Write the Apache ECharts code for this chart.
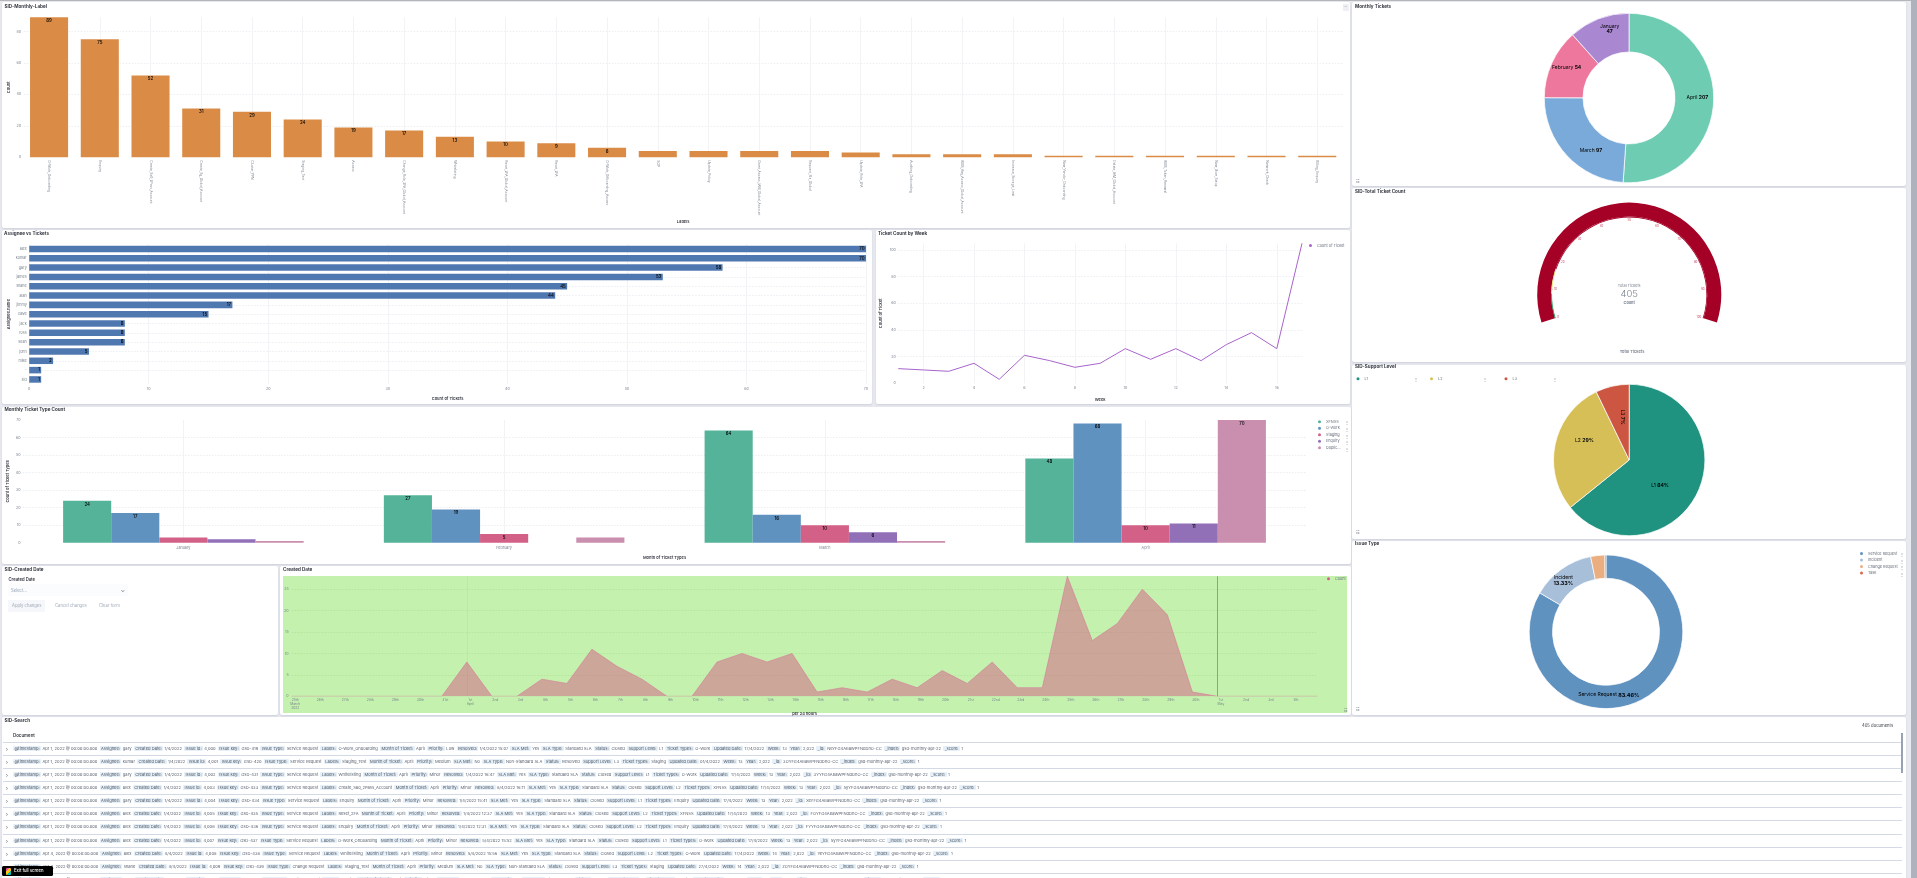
<!DOCTYPE html>
<html><head><meta charset="utf-8">
<style>
html,body{margin:0;padding:0;width:1917px;height:878px;overflow:hidden;background:#e9eaf0;font-family:Inter,"Noto Sans",sans-serif}
.card{position:absolute;background:#fff;border-radius:2px;box-shadow:0 1px 2px rgba(120,130,150,.25)}
.t{position:absolute;white-space:nowrap;transform:translateY(-50%);line-height:1}
.title{font-size:4.6px;font-weight:700;color:#343741}
#chart{position:absolute;left:0;top:0;width:1917px;height:878px;z-index:1}
#over{position:absolute;left:0;top:0;width:1917px;height:878px;z-index:2;pointer-events:none;overflow:hidden}
.row{position:absolute;left:13px;white-space:nowrap;font-size:4.1px;line-height:6px;color:#5a6270}
.row b{font-weight:400;color:#4a5260;background:#e6f0f8;border-radius:1px;padding:0 1.4px;margin-right:1.4px}
.row i{font-style:normal;margin-right:2.2px}
</style></head><body>
<div id="bg"></div><div id="chart"></div><div id="over"></div>
<script src="https://cdn.jsdelivr.net/npm/echarts@6/dist/echarts.min.js"></script>
<script>
// ---------- data ----------
const labelCategories = ["O-Work_Onboarding","Enquiry","Create_Sa0_2Pass_Account","Create_Sg_Global_Account","Cluster_VPN","Staging_Test","Access","Change_Role_2FA_Global_Account","Whitelisting","Reset_2FA_Global_Account","Reset_2FA","O-Work_Offboarding_Access","SOP","Update_Policy","Grant_Access_IAM_Global_Account","Request_Sla_Global","Update_Role_2FA","Auditing_Onboarding","KMS_Key_Access_Global_Account","Increase_Storage_Limit","New_Vendor_Onboarding","Delete_IAM_Global_Account","KMS_Token_Renewal","New_User_Setup","Network_Check","Billing_Enquiry"];
const labelCounts = [89,75,52,31,29,24,19,17,13,10,9,6,4,4,4,4,3,2,2,2,1,1,1,1,1,1];
const assignees = ["alex","kumar","gary","james","shane","alan","jimmy","dave","jack","ross","sean","john","mike","-","sid"];
const assigneeCounts = [70,70,58,53,45,44,17,15,8,8,8,5,2,1,1];
const weeks = ["1","2","3","4","5","6","7","8","9","10","11","12","13","14","15","16","17"];
const weekCounts = [11,10,9,15,3,21,17,12,15,26,18,26,17,29,38,26,105];
const months = ["January","February","March","April"];
const typeNames = ["XFNSS","O-Work","Staging","Enquiry","Duplic..."];
const typeXFNSS = [24,27,64,48];
const typeOWork = [17,19,16,68];
const typeStaging = [3,5,10,10];
const typeEnquiry = [2,0,6,11];
const typeDuplicate = [1,3,1,70];
const createdDays = ["25th\nMarch\n2022","26th","27th","28th","29th","30th","31st","1st\nApril","2nd","3rd","4th","5th","6th","7th","8th","9th","10th","11th","12th","13th","14th","15th","16th","17th","18th","19th","20th","21st","22nd","23rd","24th","25th","26th","27th","28th","29th","30th","1st\nMay","2nd","3rd","4th","5th"];
const createdCounts = [0,0,0,0,0,0,0,8,0,0,4,3,11,7,4,0,0,8,10,8,10,1,2,1,4,2,6,3,8,2,2,28,13,17,25,19,1,0,0,0,0,0];
const monthNames = ["April","March","February","January"];
const monthCounts = [207,97,54,47];
const supportLevels = ["L1","L2","L3"];
const supportCounts = [260,116,29];
const issueTypes = ["Service Request","Incident","Change Request","Task"];
const issueCounts = [338,54,12,1];
const totalTickets = 405;
const gaugeMax = 100;
const docHeaders = ["@timestamp:","Assignee:","Created Date:","Issue id:","Issue key:","Issue Type:","Labels:","Month of Ticket:","Priority:","Resolved:","SLA Met:","SLA Type:","Status:","Support Level:","Ticket Types:","Updated Date:","Week:","Year:","_id:","_index:","_score:"];
const docRows = [
["Apr 1, 2022 @ 00:00:00.000","gary","1/4/2022","4,000","GsD-419","Service Request","O-Work_Onboarding","April","Low","1/4/2022 15:07","Yes","Standard SLA","Closed","L1","O-Work","17/4/2022","13","2,022","NeYFG4ABaWPFNdDhO-CC","gsd-monthly-apr-22","1"],
["Apr 1, 2022 @ 00:00:00.000","kumar","1/4/2022","4,001","GsD-420","Service Request","Staging_Test","April","Medium","","No","Non-Standard SLA","Resolved","L3","Staging","01/4/2022","13","2,022","3OYFG4ABaWPFNdDhO-CC","gsd-monthly-apr-22","1"],
["Apr 1, 2022 @ 00:00:00.000","gary","1/4/2022","4,002","GsD-431","Service Request","Whitelisting","April","Minor","1/4/2022 16:47","Yes","Standard SLA","Closed","L1","O-Work","17/4/2022","13","2,022","3YYFG4ABaWPFNdDhO-CC","gsd-monthly-apr-22","1"],
["Apr 1, 2022 @ 00:00:00.000","alex","1/4/2022","4,003","GsD-433","Service Request","Create_Sa0_2Pass_Account","April","Minor","8/4/2022 16:11","Yes","Standard SLA","Closed","L2","XFNSS","17/4/2022","13","2,022","5yYFG4ABaWPFNdDhO-CC","gsd-monthly-apr-22","1"],
["Apr 1, 2022 @ 00:00:00.000","gary","1/4/2022","4,004","GsD-434","Service Request","Enquiry","April","Minor","1/4/2022 15:41","Yes","Standard SLA","Closed","L1","Enquiry","17/4/2022","13","2,022","XeYFG4ABaWPFNdDhO-CC","gsd-monthly-apr-22","1"],
["Apr 1, 2022 @ 00:00:00.000","alex","1/4/2022","4,005","GsD-435","Service Request","Reset_2FA","April","Minor","1/4/2022 12:37","Yes","Standard SLA","Closed","L2","XFNSS","17/4/2022","13","2,022","FOYFG4ABaWPFNdDhO-CC","gsd-monthly-apr-22","1"],
["Apr 1, 2022 @ 00:00:00.000","alex","1/4/2022","4,006","GsD-436","Service Request","Enquiry","April","Minor","1/4/2022 12:31","Yes","Standard SLA","Closed","L2","Enquiry","17/4/2022","13","2,022","FYYFG4ABaWPFNdDhO-CC","gsd-monthly-apr-22","1"],
["Apr 1, 2022 @ 00:00:00.000","alex","1/4/2022","4,007","GsD-437","Service Request","O-Work_Onboarding","April","Minor","5/4/2022 15:52","Yes","Standard SLA","Closed","L1","O-Work","17/4/2022","13","2,022","5yYFG4ABaWPFNdDhO-CC","gsd-monthly-apr-22","1"],
["Apr 4, 2022 @ 00:00:00.000","alex","4/4/2022","4,008","GsD-438","Service Request","Whitelisting","April","Minor","5/4/2022 15:56","Yes","Standard SLA","Closed","L2","O-Work","17/4/2022","14","2,022","YeYFG4ABaWPFNdDhO-CC","gsd-monthly-apr-22","1"],
["Apr 4, 2022 @ 00:00:00.000","shane","4/4/2022","4,009","GsD-439","Change Request","Staging_Test","April","Medium","","No","Non-Standard SLA","Closed","L3","Staging","27/4/2022","14","2,022","ZOYFG4ABaWPFNdDhO-CC","gsd-monthly-apr-22","1"],
["Apr 4, 2022 @ 00:00:00.000","gary","4/4/2022","4,010","GsD-440","Service Request","Enquiry","April","Minor","4/4/2022 11:02","Yes","Standard SLA","Closed","L1","Enquiry","17/4/2022","14","2,022","ZeYFG4ABaWPFNdDhO-CC","gsd-monthly-apr-22","1"]
];
// ---------- page furniture ----------
const bg=document.getElementById('bg'), over=document.getElementById('over');
function card(x0,y0,x1,y1,extra){const d=document.createElement('div');d.className='card';d.style.cssText=`left:${x0}px;top:${y0}px;width:${x1-x0}px;height:${y1-y0}px;${extra||''}`;bg.appendChild(d);return d;}
function txt(x,y,s,cls,css){const d=document.createElement('div');d.className='t '+(cls||'');d.textContent=s;d.style.cssText=`left:${x}px;top:${y}px;${css||''}`;over.appendChild(d);return d;}
function box(x0,y0,x1,y1,css){const d=document.createElement('div');d.style.cssText=`position:absolute;left:${x0}px;top:${y0}px;width:${x1-x0}px;height:${y1-y0}px;${css}`;over.appendChild(d);return d;}
const panels=[[2,2,1350,228],[2,230,872,404],[876,230,1350,404],[2,407,1351,563.5],[2,566,278,715],[280,566,1351,715],[1352,2,1906,186],[1352,188,1906,362],[1352,364.7,1906,539],[1352,541,1906,715],[2,717,1906,880]];
panels.forEach(p=>card(p[0],p[1],p[2],p[3]));
card(283,576,1346.5,713,'background:#c4f2ae;border-radius:0;box-shadow:none');
box(0,0,1911,1.2,'background:#b4b6ba');
box(1911,0,1917,878,'background:#adb2bc');
box(1342.5,3.5,1349,11,'background:#eef0f4');
txt(1343.6,7.3,'···','',"font-size:4px;color:#69707d");
[["SID-Monthly-Label",4.5,6.8],["Assignee vs Tickets",4,233.7],["Ticket Count by Week",878,233.7],["Monthly Ticket Type Count",4.5,409.7],["SID-Created Date",4.5,569.7],["Created Date",283,569.7],["Monthly Tickets",1355,6.7],["SID-Total Ticket Count",1355,191.7],["SID-Support Level",1355,367.3],["Issue Type",1355,544.3],["SID-Search",4.5,720.7]].forEach(a=>txt(a[1],a[2],a[0],'title'));
// filter control
txt(8.5,580,"Created Date",'',"font-size:4.2px;font-weight:600;color:#343741");
box(8,584,128,596,'background:#fbfcfd');
txt(11,590.5,"Select...",'',"font-size:4.2px;color:#98a2b3");
txt(120.5,590.5,"⌄",'',"font-size:6px;color:#69707d;transform:translateY(-70%)");
box(8,600,45,612,'background:#f5f7fa;border-radius:1px');
txt(12,606,"Apply changes",'',"font-size:4.2px;color:#a2abba");
txt(55,606,"Cancel changes",'',"font-size:4.2px;color:#a2abba");
txt(99,606,"Clear form",'',"font-size:4.2px;color:#a2abba");
// legend extras
[[1345,423],[1345,430],[1345,436.5],[1345,443],[1345,449.5],[1414,380],[1483,380],[1553,380],[1900,555],[1900,561.5],[1900,568],[1900,575]].forEach(a=>txt(a[0],a[1],"⋮",'',"font-size:4.4px;color:#69707d"));
[[1357,181.7],[1357,533],[1357,710],[1345,710.5]].forEach(a=>txt(a[0]-1.5,a[1],"☷",'',"font-size:4px;color:#69707d"));
txt(1632,351.7,"Total Tickets",'',"font-size:4px;font-weight:600;color:#7a828e;transform:translate(-50%,-50%)");
// document table
txt(13,736.3,"Document",'',"font-size:4.4px;font-weight:600;color:#343741");
txt(1862,726,"405 documents",'',"font-size:4.2px;color:#343741");
const rowY=[742.3,755.4,768.4,781.4,794.4,807.4,820.7,834.2,847.3,860.3,873.3];
rowY.forEach((y,i)=>{
  box(3,y-.5,1902,y+.5,'background:#d3dae6');
  txt(5.8,y+6.3,"›",'',"font-size:6px;color:#69707d");
  const r=document.createElement('div');r.className='row';r.style.top=(y+3.4)+'px';
  docHeaders.forEach((h,k)=>{const v=docRows[i][k];if(v==="")return;const b=document.createElement('b');b.textContent=h;const s=document.createElement('i');s.textContent=v;r.append(b,s);});
  over.appendChild(r);
});
box(1901,733,1903,773,'background:#98a2b3');
box(2,866,52.7,876.3,'background:#000;border-radius:1.5px');
box(6,867.5,11,874.5,'background:linear-gradient(135deg,#f04e98 0 30%,#fec514 30% 60%,#00bfb3 60%);border-radius:1px');
txt(14,871.2,"Exit full screen",'',"font-size:4.2px;color:#fff;font-weight:500");
// ---------- chart ----------
const axisC='#7a828e', nameC='#343741', gridC='#eef0f3';
const tick={color:axisC,fontSize:3.7,fontFamily:'Inter'};
const nameStyle={color:nameC,fontSize:4,fontWeight:600,fontFamily:'Inter'};
const off={show:false};
const dash={show:true,lineStyle:{color:'#e4e7ec',type:[1.5,1.5],width:.7},showMinLine:false,showMaxLine:false};
const solid={show:true,alignWithLabel:true,lineStyle:{color:gridC,width:.8}};
const barLabel={show:true,position:'insideTop',distance:1.6,color:'#000',fontSize:4.4,fontFamily:'Inter',fontWeight:500};
const legendBase={icon:'circle',itemWidth:3,itemHeight:3,padding:0,orient:'vertical',selectedMode:false,itemStyle:{borderWidth:0},textStyle:{color:'#69707d',fontSize:3.8,fontFamily:'Inter'}};
const axisCommon={axisLine:off,axisTick:off,nameLocation:'middle',nameMoveOverlap:false,nameTextStyle:nameStyle};
function nudged(arr){return p=>{const a=arr[p.dataIndex]||[0,0];return {dx:a[0],dy:a[1]};};}
const monthNudge=[[0,-3],[12,6],[0,-2],[5,-5]], supNudge=[[-6,8],[-5,-11],[-3,-2]], issueNudge=[[-31,4],[-3,4],[0,0],[0,0]];
const gridCommon={outerBoundsMode:'none',containLabel:false};
const option={
  animation:false,
  grid:[
    {...gridCommon,left:23.7,top:17.3,width:1318.9,height:140},
    {...gridCommon,left:29.2,top:244.3,width:836.8,height:139.8},
    {...gridCommon,left:898.3,top:243.3,width:403.7,height:140},
    {...gridCommon,left:23,top:420,width:1283,height:122.7},
    {...gridCommon,left:291.7,top:576.3,width:1025.8,height:120}
  ],
  xAxis:[
    {...axisCommon,gridIndex:0,type:'category',data:labelCategories,splitLine:solid,name:'Labels',nameGap:62.5,axisLabel:{...tick,fontSize:3.3,interval:0,rotate:-90,margin:3}},
    {...axisCommon,gridIndex:1,type:'value',min:0,max:70,interval:10,splitLine:{show:true,lineStyle:{color:gridC,width:.8}},name:'Count of Tickets',nameGap:12.5,axisLabel:{...tick,margin:2.5}},
    {...axisCommon,gridIndex:2,type:'category',boundaryGap:false,data:weeks,splitLine:{show:true,interval:(i,v)=>+v%2===0,lineStyle:{color:gridC,width:.8}},name:'Week',nameGap:14,axisLabel:{...tick,margin:3,interval:(i,v)=>+v%2===0}},
    {...axisCommon,gridIndex:3,type:'category',data:months,splitLine:solid,name:'Month of Ticket Types',nameGap:13,axisLabel:{...tick,margin:3}},
    {...axisCommon,gridIndex:4,type:'category',boundaryGap:false,data:createdDays,splitLine:{show:true,interval:i=>i===7,lineStyle:{color:'#b9e6a4',width:.8}},name:'per 24 hours',nameGap:15.5,axisLabel:{...tick,fontSize:3.3,lineHeight:3.9,margin:2,padding:[0,0,0,7],verticalAlign:'top',interval:i=>i<41}}
  ],
  yAxis:[
    {...axisCommon,gridIndex:0,type:'value',min:0,max:89,interval:20,splitLine:dash,name:'Count',nameGap:12.5,axisLabel:{...tick,margin:2.5,showMaxLabel:false}},
    {...axisCommon,gridIndex:1,type:'category',inverse:true,data:assignees,splitLine:{...dash,alignWithLabel:true},name:'Assignee.name',nameGap:18.5,axisLabel:{...tick,margin:2.5,interval:0}},
    {...axisCommon,gridIndex:2,type:'value',min:0,max:105,interval:20,splitLine:dash,name:'Count of Ticket',nameGap:15.6,axisLabel:{...tick,margin:2.5,showMaxLabel:false}},
    {...axisCommon,gridIndex:3,type:'value',min:0,max:70,interval:10,splitLine:dash,name:'Count of Ticket Types',nameGap:13,axisLabel:{...tick,margin:2.5}},
    {...axisCommon,gridIndex:4,type:'value',min:0,max:28,interval:5,splitLine:{...dash,lineStyle:{color:'#aee094',type:[1.5,1.5],width:.7}},axisLabel:{...tick,margin:3,showMaxLabel:false}}
  ],
  legend:[
    {...legendBase,left:1309,top:243.5,data:['Count of Ticket']},
    {...legendBase,left:1318,top:419.7,itemGap:2.5,data:typeNames},
    {...legendBase,left:1327,top:576.7,data:['Count']},
    {...legendBase,left:1356.5,top:376.8,orient:'horizontal',itemGap:62,data:supportLevels},
    {...legendBase,left:1860,top:551.5,itemGap:2.5,data:issueTypes}
  ],
  series:[
    {type:'bar',xAxisIndex:0,yAxisIndex:0,data:labelCounts,barCategoryGap:'25%',itemStyle:{color:'#DA8B45'},label:{...barLabel,formatter:p=>p.value>=6?p.value:''}},
    {type:'bar',xAxisIndex:1,yAxisIndex:1,data:assigneeCounts,barCategoryGap:'30%',itemStyle:{color:'#5078B0'},label:{...barLabel,position:'insideRight',distance:1.4}},
    {type:'line',name:'Count of Ticket',xAxisIndex:2,yAxisIndex:2,data:weekCounts,showSymbol:false,symbol:'none',lineStyle:{color:'#A864CC',width:1},itemStyle:{color:'#A864CC'}},
    ...typeNames.map((n,i)=>({type:'bar',name:n,xAxisIndex:3,yAxisIndex:3,data:[typeXFNSS,typeOWork,typeStaging,typeEnquiry,typeDuplicate][i],barGap:0,barCategoryGap:'25%',itemStyle:{color:['#54B399','#6092C0','#D36086','#9170B8','#CA8EAE'][i]},label:{...barLabel,formatter:p=>p.value>=5?p.value:''}})),
    {type:'line',name:'Count',xAxisIndex:4,yAxisIndex:4,data:createdCounts,showSymbol:false,symbol:'none',lineStyle:{color:'#D9789A',width:.6},itemStyle:{color:'#D36086'},areaStyle:{color:'#D36086',opacity:.52},
      markLine:{silent:true,symbol:'none',label:off,lineStyle:{color:'#9a9a9a',width:1,type:'solid'},data:[{xAxis:37}]}},
    {type:'pie',center:[1629,98],radius:[46,84.7],startAngle:90,clockwise:true,data:monthNames.map((n,i)=>({name:n,value:monthCounts[i],itemStyle:{color:['#6DCCB1','#79AAD9','#EE789D','#A987D1'][i]}})),itemStyle:{borderColor:'#fff',borderWidth:.7},
      label:{position:'inside',fontSize:5,fontFamily:'Inter',color:'#000',formatter:p=>p.name==='January'?`${p.name}\n{b|${p.value}}`:`${p.name} {b|${p.value}}`,rich:{b:{fontWeight:700,fontSize:5,color:'#000'}}},labelLine:off,labelLayout:nudged(monthNudge)},
    {type:'gauge',center:[1629.2,294.6],radius:92,startAngle:197.6,endAngle:-17.6,min:0,max:gaugeMax,splitNumber:10,pointer:off,anchor:off,progress:off,
      axisLine:{lineStyle:{width:14,color:[[1,'#A50026']]}},axisTick:off,splitLine:{length:1.2,distance:0.3,lineStyle:{color:'#d0607a',width:.4}},axisLabel:{color:'#c84a68',fontSize:2.8,distance:15,fontFamily:'Inter'},
      title:{offsetCenter:[0,-8.4],fontSize:3.8,color:'#7a828e',fontFamily:'Inter'},
      detail:{offsetCenter:[0,2.8],formatter:v=>`{v|${v}}\n{c|Count}`,rich:{v:{fontSize:9.5,fontWeight:300,color:'#7a828e',fontFamily:'Inter',lineHeight:10},c:{fontSize:3.8,color:'#7a828e',fontFamily:'Inter',lineHeight:6}}},
      data:[{name:'Total Tickets',value:totalTickets}]},
    {type:'gauge',center:[1629.2,294.6],radius:78,startAngle:197.6,endAngle:-17.6,min:0,max:gaugeMax,pointer:off,anchor:off,progress:off,axisTick:off,splitLine:off,axisLabel:off,title:off,detail:off,
      axisLine:{lineStyle:{width:.8,color:[[.085,'#1a9850'],[.17,'#e8e06a'],[1,'#A50026']]}},data:[{value:totalTickets}]},
    {type:'pie',center:[1629.2,460],radius:[0,75.7],startAngle:90,clockwise:true,data:supportLevels.map((n,i)=>({name:n,value:supportCounts[i],itemStyle:{color:['#209280','#D6BF57','#CC5642'][i]},label:i===2?{rotate:-90}:{}})),itemStyle:{borderColor:'#fff',borderWidth:.7},
      label:{position:'inside',fontSize:5,fontFamily:'Inter',color:'#000',formatter:p=>`${p.name} {b|${Math.round(p.percent)}%}`,rich:{b:{fontWeight:700,fontSize:5,color:'#000'}}},labelLine:off,labelLayout:nudged(supNudge)},
    {type:'pie',center:[1606,631.8],radius:[53.5,76.8],startAngle:90,clockwise:true,data:issueTypes.map((n,i)=>({name:n,value:issueCounts[i],itemStyle:{color:['#6092C0','#A8BFDA','#EAAE80','#D96751'][i]},label:i>1?{show:false}:{}})),itemStyle:{borderColor:'#fff',borderWidth:.7},
      label:{position:'inside',fontSize:5,fontFamily:'Inter',color:'#000',lineHeight:5.5,formatter:p=>{const v=p.percent.toFixed(2)+'%';return p.name==='Incident'?`${p.name}\n{b|${v}}`:`${p.name} {b|${v}}`;},rich:{b:{fontWeight:700,fontSize:5.4,color:'#000'}}},labelLine:off,labelLayout:nudged(issueNudge)}
  ]
};
const chart=echarts.init(document.getElementById('chart'),null,{renderer:'canvas',width:1917,height:878});
chart.setOption(option);
</script></body></html>
